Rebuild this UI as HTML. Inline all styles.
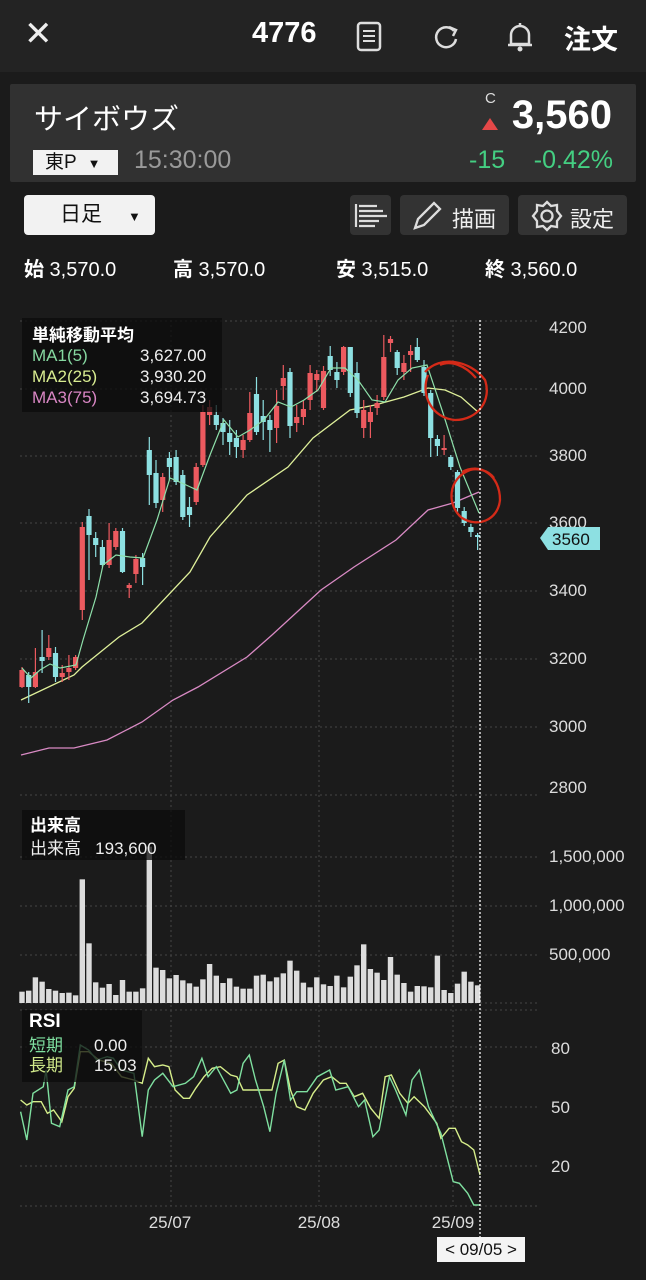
<!DOCTYPE html>
<html><head><meta charset="utf-8">
<style>
*{margin:0;padding:0;box-sizing:border-box}
body{width:646px;height:1280px;background:#1b1b1b;overflow:hidden;font-family:"Liberation Sans","Noto Sans CJK JP",sans-serif;color:#fff;position:relative}
.abs{position:absolute;white-space:nowrap}
</style></head><body>
<div class="abs" style="left:0;top:0;width:646px;height:72px;background:#232323"></div>
<div class="abs" style="left:24px;top:14px;font-size:34px;color:#eee;font-weight:300">✕</div>
<div class="abs" style="left:252px;top:17px;font-size:29px;font-weight:bold">4776</div>
<svg class="abs" style="left:356px;top:21px" width="28" height="32"><rect x="2" y="2" width="22" height="27" rx="3" fill="none" stroke="#ddd" stroke-width="2.5"/><path d="M7 10h12M7 15h12M7 20h12" stroke="#ddd" stroke-width="2"/></svg>
<svg class="abs" style="left:431px;top:22px" width="30" height="30"><path d="M23 9 A10 10 0 1 0 25 17" fill="none" stroke="#ddd" stroke-width="2.5"/><path d="M18 5 L25 8 L22 14" fill="none" stroke="#ddd" stroke-width="2.5"/></svg>
<svg class="abs" style="left:505px;top:20px" width="30" height="34"><path d="M6 24 V15 A9 9 0 0 1 24 15 V24 Z M3 25 H27" fill="none" stroke="#ddd" stroke-width="2.5"/><circle cx="15" cy="29" r="2.5" fill="#ddd"/><path d="M15 3v4" stroke="#ddd" stroke-width="2.5"/></svg>
<div class="abs" style="left:564px;top:18px;font-size:27px;font-weight:bold">注文</div>

<div class="abs" style="left:10px;top:84px;width:626px;height:98px;background:#313131;border-radius:2px"></div>
<div class="abs" style="left:34px;top:96px;font-size:29px">サイボウズ</div>
<div class="abs" style="left:485px;top:90px;font-size:15px;color:#ddd">C</div>
<svg class="abs" style="left:482px;top:118px" width="16" height="12"><path d="M8 0 L16 12 H0 Z" fill="#e54848"/></svg>
<div class="abs" style="right:34px;top:93px;font-size:40px;font-weight:bold">3,560</div>
<div class="abs" style="left:33px;top:150px;width:85px;height:25px;background:#f2f2f2;color:#111;font-size:19px;padding-left:12px;line-height:25px">東P <span style="font-size:13px;margin-left:6px">▼</span></div>
<div class="abs" style="left:134px;top:146px;font-size:25px;color:#9a9a9a">15:30:00</div>
<div class="abs" style="left:469px;top:146px;font-size:25px;color:#44cf82">-15</div>
<div class="abs" style="right:33px;top:146px;font-size:25px;color:#44cf82">-0.42%</div>

<div class="abs" style="left:24px;top:195px;width:131px;height:40px;background:#f2f2f2;border-radius:4px;color:#111;font-size:21px;line-height:40px;padding-left:36px">日足<span style="font-size:13px;margin-left:26px">▼</span></div>
<div class="abs" style="left:350px;top:195px;width:41px;height:40px;background:#333;border-radius:4px"></div>
<svg class="abs" style="left:354px;top:200px" width="34" height="30"><path d="M2 4v23M5 6h18M5 11h24M5 16h28M5 21h20M5 26h16" stroke="#ddd" stroke-width="2.2"/></svg>
<div class="abs" style="left:400px;top:195px;width:109px;height:40px;background:#333;border-radius:4px"></div>
<svg class="abs" style="left:410px;top:200px" width="34" height="32"><path d="M5 28 L8 19 L24 3 L30 9 L14 25 Z" fill="none" stroke="#ddd" stroke-width="2.3"/></svg>
<div class="abs" style="left:452px;top:202px;font-size:22px;color:#eee">描画</div>
<div class="abs" style="left:518px;top:195px;width:109px;height:40px;background:#333;border-radius:4px"></div>
<svg class="abs" style="left:530px;top:199px" width="34" height="34"><circle cx="17" cy="17" r="5.5" fill="none" stroke="#ddd" stroke-width="2.3"/><path d="M17 3 L21 7 L27 6 L27 12 L31 17 L27 22 L27 28 L21 27 L17 31 L13 27 L7 28 L7 22 L3 17 L7 12 L7 6 L13 7 Z" fill="none" stroke="#ddd" stroke-width="2.3"/></svg>
<div class="abs" style="left:570px;top:202px;font-size:22px;color:#eee">設定</div>

<div class="abs" style="left:24px;top:253px;font-size:20px"><b>始</b> 3,570.0</div>
<div class="abs" style="left:173px;top:253px;font-size:20px"><b>高</b> 3,570.0</div>
<div class="abs" style="left:336px;top:253px;font-size:20px"><b>安</b> 3,515.0</div>
<div class="abs" style="left:485px;top:253px;font-size:20px"><b>終</b> 3,560.0</div>

<svg id="ch" class="abs" style="left:0;top:0" width="646" height="1280"></svg>

<div class="abs" style="left:22px;top:318px;width:200px;height:94px;background:rgba(12,12,12,0.75)"></div>
<div class="abs" style="left:32px;top:321px;font-size:17px;font-weight:bold">単純移動平均</div>
<div class="abs" style="left:32px;top:345px;font-size:17px;line-height:21px;color:#86d8a0">MA1(5)<br><span style="color:#d8ec90">MA2(25)</span><br><span style="color:#d986c4">MA3(75)</span></div>
<div class="abs" style="left:140px;top:345px;font-size:17px;line-height:21px;color:#eee">3,627.00<br>3,930.20<br>3,694.73</div>

<div class="abs" style="left:22px;top:810px;width:163px;height:50px;background:rgba(12,12,12,0.75)"></div>
<div class="abs" style="left:30px;top:811px;font-size:17px;font-weight:bold">出来高</div>
<div class="abs" style="left:30px;top:834px;font-size:17px;color:#eee">出来高&nbsp;&nbsp; 193,600</div>

<div class="abs" style="left:22px;top:1010px;width:120px;height:72px;background:rgba(12,12,12,0.75)"></div>
<div class="abs" style="left:29px;top:1011px;font-size:19px;font-weight:bold">RSI</div>
<div class="abs" style="left:29px;top:1036px;font-size:17px;line-height:20px;color:#7fe0a0">短期<br><span style="color:#cfe88a">長期</span></div>
<div class="abs" style="left:94px;top:1036px;font-size:17px;line-height:20px;color:#eee">0.00<br>15.03</div>

<div class="abs" style="left:437px;top:1237px;width:88px;height:25px;background:#f4f4f4;color:#111;font-size:17px;line-height:25px;text-align:center">&lt; 09/05 &gt;</div>

<script>
var s=document.getElementById('ch'),h='';
function L(x1,y1,x2,y2,c,w,d){h+='<line x1="'+x1+'" y1="'+y1+'" x2="'+x2+'" y2="'+y2+'" stroke="'+c+'" stroke-width="'+(w||1)+'"'+(d?' stroke-dasharray="'+d+'"':'')+'/>';}
function T(x,y,t,sz,c,a){h+='<text x="'+x+'" y="'+y+'" font-size="'+sz+'" fill="'+(c||'#ddd')+'"'+(a?' text-anchor="'+a+'"':'')+' font-family="Liberation Sans,sans-serif">'+t+'</text>';}
// grids
[321,389,456,523,591,659,727,795].forEach(function(y){L(20,y,538,y,'#444',1,'2,3')});
[857,906,955,1003,1010,1047,1107,1166,1206].forEach(function(y){L(20,y,538,y,'#444',1,'2,3')});
[171,319,453].forEach(function(x){L(x,320,x,1206,'#444',1,'2,3')});
var pl=[[4200,333],[4000,394],[3800,461],[3600,528],[3400,596],[3200,664],[3000,732],[2800,793]];
pl.forEach(function(p){T(549,p[1],p[0],17)});
T(549,862,'1,500,000',17);T(549,911,'1,000,000',17);T(549,960,'500,000',17);
T(551,1054,'80',17);T(551,1113,'50',17);T(551,1172,'20',17);
T(170,1228,'25/07',17,'#ddd','middle');T(319,1228,'25/08',17,'#ddd','middle');T(453,1228,'25/09',17,'#ddd','middle');
// MA lines
function P(pts,c,w){h+='<polyline points="'+pts.map(function(p){return p.join(',')}).join(' ')+'" fill="none" stroke="'+c+'" stroke-width="'+(w||1.3)+'"/>';}
P([[21,755],[49,748],[74,748],[107,740],[142,722],[173,700],[198,687],[247,657],[272,635],[321,590],[354,567],[396,540],[428,510],[453,503],[479,492]],'#d98ac4');
P([[21,700],[74,675],[82,667],[119,637],[142,623],[190,572],[210,537],[247,495],[288,467],[313,438],[350,410],[375,405],[404,397],[428,388],[445,390],[461,397],[478,412]],'#dff09a');
// candles
var C=[['r',670,687,667,688],['c',675,687,672,703],['r',672,687,648,688],['c',657,661,630,673],['r',648,657,635,660],['c',653,677,647,682],['r',673,677,665,682],['r',668,672,655,680],['r',657,668,655,670],['r',527,610,522,620],['c',516,535,509,580],['c',538,545,532,557],['c',547,565,540,567],['r',540,565,523,568],['r',531,547,528,550],['c',531,572,528,573],['r',585,588,583,598],['r',559,574,555,583],['c',558,567,553,585],['c',450,475,437,505],['c',473,503,460,508],['r',477,500,473,512],['c',458,467,452,480],['c',457,482,450,485],['c',475,517,470,520],['c',507,515,497,527],['r',467,502,463,505],['r',412,465,405,467],['r',407,415,400,425],['c',415,425,405,430],['c',423,432,418,445],['c',433,442,420,455],['c',438,447,430,458],
['r',440,450,435,458],['r',413,440,392,442],['c',394,432,377,435],['c',416,422,400,440],['c',420,430,415,452],['r',406,428,390,443],['r',378,386,365,400],['c',372,426,368,438],['r',417,423,405,432],['r',409,417,400,425],['r',373,400,365,410],['r',374,380,370,392],['r',371,408,366,410],['c',356,370,346,376],['c',372,380,362,388],['r',347,372,346,375],['c',347,393,347,397],['c',373,413,362,418],['r',410,428,400,438],['r',412,422,405,438],['r',403,408,395,415],['r',357,397,335,400],['r',339,343,336,352],['c',352,368,350,375],['r',363,372,355,380],['r',351,355,345,372],['c',347,360,338,362],['c',367,393,360,396],['c',393,438,390,457],['c',439,446,435,456],['r',448,450,435,455],['c',457,467,455,470],['c',472,508,470,513],['c',511,523,507,526],['c',527,532,524,537],['c',535,537,533,550]];
C.forEach(function(c,i){var x=22+i*6.7,col=c[0]=='r'?'#ec5a5f':'#8de0e2';
L(x,c[3],x,c[4],col,1.2);h+='<rect x="'+(x-2.6)+'" y="'+c[1]+'" width="5.2" height="'+Math.max(2,c[2]-c[1])+'" fill="'+col+'"/>';});
P([[22,668],[31,678],[40,670],[50,664],[60,668],[76,665],[83,640],[96,597],[103,565],[116,555],[130,557],[143,558],[157,520],[170,478],[184,484],[197,490],[210,455],[224,420],[238,437],[250,430],[264,420],[278,402],[291,407],[304,400],[318,390],[331,368],[345,368],[358,380],[372,400],[385,402],[398,380],[412,368],[427,365],[443,413],[460,467],[479,513]],'#8ee0aa',1.2);
// circles
h+='<path d="M425 372 C440 355 470 360 485 380 C492 400 478 420 455 420 C432 418 420 395 428 375 M440 365 C450 360 465 365 476 378" fill="none" stroke="#d42a18" stroke-width="2.3"/>';
h+='<path d="M462 472 C480 462 500 475 500 500 C498 520 478 528 462 518 C446 505 448 478 470 470 C478 468 488 470 494 478" fill="none" stroke="#d42a18" stroke-width="2.3"/>';
// volume
var V=[575,572,532,545,567,572,579,578,586,238,430,547,563,552,585,540,575,575,565,140,503,510,535,525,541,550,560,538,492,527,549,535,560,566,566,527,524,544,532,520,482,512,548,562,532,553,558,527,562,530,496,433,507,518,540,471,524,549,575,558,559,562,467,570,579,551,515,545,556];
V.forEach(function(v,i){var x=22+i*6.7,y=800+v/3;h+='<rect x="'+(x-2.7)+'" y="'+y+'" width="5.4" height="'+(1003-y)+'" fill="#dcdcdc"/>';});
// RSI
function R(a,c){var p=[];for(var i=0;i<a.length;i+=2)p.push([(a[i]/2.427).toFixed(1),(800+a[i+1]/3).toFixed(1)]);P(p,c,1.4);}
R([50,900,65,915,80,905,100,905,115,940,130,930,150,965,165,890,180,865,195,755,215,755,240,780,270,790,295,830,325,840,345,850,360,775,375,800,395,795,410,800,425,870,445,895,460,895,475,865,495,830,515,805,535,800,560,825,575,830,590,870,615,870,640,870,660,870,675,790,690,780,705,870,720,920,740,930,760,880,785,840,805,830,825,850,840,850,860,890,880,880,900,925,920,955,935,830,950,825,970,880,990,910,1005,890,1030,920,1060,970,1070,1015,1090,985,1105,985,1120,1025,1135,1035,1150,1050,1165,1125],'#d6ee8a');
R([50,935,65,1020,80,880,105,860,112,810,125,970,145,980,165,870,180,860,195,735,215,750,235,780,260,770,275,775,295,810,325,820,345,1010,360,870,375,840,395,820,420,860,450,850,470,830,490,775,505,830,525,800,560,880,575,870,590,790,605,765,620,840,640,920,655,995,670,880,690,780,705,900,720,875,745,875,770,830,800,810,815,870,845,860,870,920,885,900,905,1010,920,990,945,830,960,870,985,945,1000,840,1018,810,1040,920,1070,1000,1100,1145,1115,1150,1135,1180,1150,1215,1165,1215],'#7fe0a0');
// cursor
L(480,320,480,1238,'#fff',1.3,'2,2');
h+='<path d="M540 538 L548 527 H600 V550 H548 Z" fill="#8de0e2"/>';
T(552,545,'3560',17,'#111');
s.innerHTML=h;
</script>
</body></html>
